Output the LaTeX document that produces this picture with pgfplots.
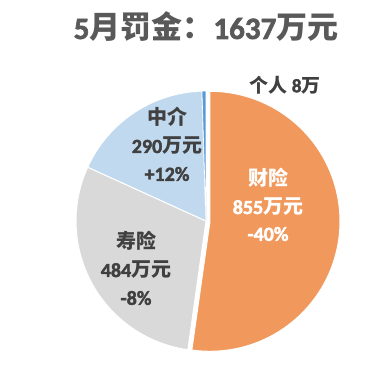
\documentclass[border=0pt]{standalone}
\usepackage{pgfplots}
\pgfplotsset{compat=1.18}
\usepackage{fontspec}
\setmainfont{Carlito}[BoldFeatures={FakeBold=2}]
\newfontfamily\cjk{Noto Sans CJK SC}
\definecolor{orng}{HTML}{F1995C}
\definecolor{gry}{HTML}{D9D9D9}
\definecolor{lblue}{HTML}{C1D9EE}
\definecolor{dblue}{HTML}{5B9BD5}
\definecolor{txt}{HTML}{404040}
\definecolor{ttl}{HTML}{595959}
% data (万元)
\def\vA{855}% 财险
\def\vB{484}% 寿险
\def\vC{290}% 中介
\def\vD{8}%   个人
\pgfmathsetmacro{\tot}{\vA+\vB+\vC+\vD}
\pgfmathsetmacro{\aA}{90}
\pgfmathsetmacro{\aB}{\aA-360*(\vA/\tot)}
\pgfmathsetmacro{\aC}{\aB-360*(\vB/\tot)}
\pgfmathsetmacro{\aD}{\aC-360*(\vC/\tot)}
\pgfmathsetmacro{\aE}{\aD-360*(\vD/\tot)}
\pgfmathsetmacro{\mid}{(\aA+\aB)/2}
\pgfmathsetmacro{\ox}{206+4*cos(\mid)}
\pgfmathsetmacro{\oy}{221-4*sin(\mid)}
\tikzset{lbl/.style={text=txt, font=\fontsize{20}{22}\selectfont\bfseries}}
\begin{document}
\begin{tikzpicture}
\useasboundingbox (0,0) rectangle (390pt,367pt);
\begin{axis}[
  at={(0,0)}, anchor=south west,
  scale only axis, width=390pt, height=367pt,
  xmin=0, xmax=390, ymin=0, ymax=367, y dir=reverse,
  hide axis, clip=false,
]
\addplot[fill=orng, draw=white, line width=1pt, domain=\aB:\aA, samples=120, variable=\t]
  ({\ox+130*cos(\t)},{\oy-130*sin(\t)}) -- (axis cs:\ox,\oy) -- cycle;
\addplot[fill=gry, draw=white, line width=1pt, domain=\aC:\aB, samples=80, variable=\t]
  ({206+130*cos(\t)},{221-130*sin(\t)}) -- (axis cs:206,221) -- cycle;
\addplot[fill=lblue, draw=white, line width=1pt, domain=\aD:\aC, samples=60, variable=\t]
  ({206+130*cos(\t)},{221-130*sin(\t)}) -- (axis cs:206,221) -- cycle;
\addplot[fill=dblue, draw=white, line width=0.6pt, domain=\aE:\aD, samples=5, variable=\t]
  ({206+130*cos(\t)},{221-130*sin(\t)}) -- (axis cs:206,221) -- cycle;
% title
\node[text=ttl, font=\fontsize{31}{34}\selectfont\bfseries] at (axis cs:206,27) {5\cjk 月罚金：\rmfamily 1637\cjk 万元};
% labels
\node[lbl] at (axis cs:167,117) {\cjk 中介};
\node[lbl] at (axis cs:167,146) {290\cjk 万元};
\node[lbl] at (axis cs:167,174) {+12\%};
\node[lbl] at (axis cs:136,241) {\cjk 寿险};
\node[lbl] at (axis cs:136,270) {484\cjk 万元};
\node[lbl] at (axis cs:136,298) {-8\%};
\node[lbl, text=white] at (axis cs:268,178) {\cjk 财险};
\node[lbl, text=white] at (axis cs:268,207) {855\cjk 万元};
\node[lbl, text=white] at (axis cs:268,234) {-40\%};
\node[lbl, font=\fontsize{19}{22}\selectfont\bfseries] at (axis cs:285,85) {\cjk 个人 \rmfamily 8\cjk 万};
\end{axis}
\end{tikzpicture}
\end{document}
